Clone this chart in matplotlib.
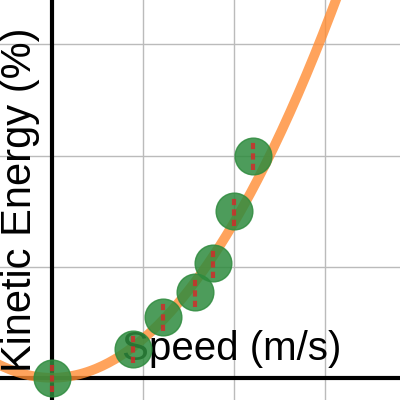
import numpy as np
import matplotlib
matplotlib.use("Agg")
import matplotlib.pyplot as plt

plt.rcParams["font.family"] = ["Liberation Sans", "DejaVu Sans"]

# measured points
speed = [0.0, 0.89, 1.22, 1.57, 1.77, 2.0, 2.21]
energy = [0.0, 0.26, 0.55, 0.77, 1.03, 1.50, 2.0]
energy_err = [0.13, 0.13, 0.13, 0.13, 0.13, 0.13, 0.13]
fit_coef = 0.35

fig = plt.figure(figsize=(4, 4), dpi=100)
ax = fig.add_axes([0, 0, 1, 1])
ax.set_xlim(-0.57, 3.82)
ax.set_ylim(-0.2, 3.4)

ax.set_xticks([1, 2, 3])
ax.set_yticks([1, 2, 3])
ax.grid(True, color="#bbbbbb", linewidth=1)
ax.tick_params(length=0, labelbottom=False, labelleft=False)
for side in ["top", "right"]:
    ax.spines[side].set_visible(False)
ax.spines["left"].set_position(("data", 0))
ax.spines["bottom"].set_position(("data", 0))
ax.spines["left"].set_linewidth(3)
ax.spines["bottom"].set_linewidth(3)

xs = np.linspace(-0.6, 3.9, 200)
ax.plot(xs, fit_coef * xs ** 2, color="#ff8c33", linewidth=7, alpha=0.8, zorder=3)

ax.scatter(speed, energy, s=700, color="#2e8b3e", alpha=0.85, zorder=4)
eb = ax.errorbar(speed, energy, yerr=energy_err, fmt="none", ecolor="#d62728",
                 elinewidth=3, zorder=5, alpha=0.8)
eb[2][0].set_linestyle((0, (1.5, 1)))

ax.text(0.305, 0.1, "Speed (m/s)", transform=ax.transAxes, fontsize=29)
ax.text(0.05, 0.5, "Kinetic Energy (%)", transform=ax.transAxes, fontsize=30,
        rotation=90, ha="center", va="center")

fig.savefig("out.png", dpi=100)
